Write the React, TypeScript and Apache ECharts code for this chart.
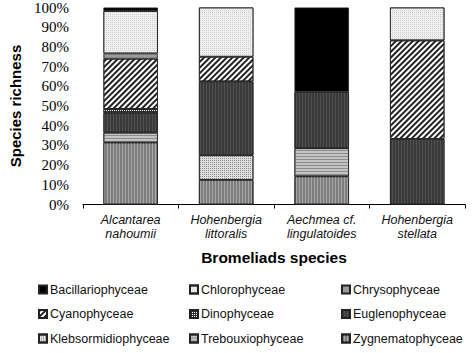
import React, { useEffect, useRef } from "react";
import * as echarts from "echarts";

const categories = [
  "Alcantarea\nnahoumii",
  "Hohenbergia\nlittoralis",
  "Aechmea cf.\nlingulatoides",
  "Hohenbergia\nstellata",
];

const bacillariophyceae = [1.8, 0, 42.9, 0];
const chlorophyceae = [21.5, 25, 0, 16.7];
const chrysophyceae = [2.7, 0, 0, 0];
const cyanophyceae = [25.5, 12.5, 0, 50];
const dinophyceae = [2, 0, 0, 0];
const euglenophyceae = [10, 37.5, 28.5, 33.3];
const klebsormidiophyceae = [0, 12.5, 0, 0];
const trebouxiophyceae = [5, 0, 14.3, 0];
const zygnematophyceae = [31.5, 12.5, 14.3, 0];

const legendCol1 = ["Bacillariophyceae", "Cyanophyceae", "Klebsormidiophyceae"];
const legendCol2 = ["Chlorophyceae", "Dinophyceae", "Trebouxiophyceae"];
const legendCol3 = ["Chrysophyceae", "Euglenophyceae", "Zygnematophyceae"];

const styles: Record<string, any> = {
  Zygnematophyceae: {
    color: "#7e7e7e",
    decal: { symbol: "rect", color: "#a8a8a8", dashArrayX: [1, 0], dashArrayY: [1, 2], rotation: Math.PI / 2, symbolSize: 1 },
  },
  Trebouxiophyceae: {
    color: "#c4c4c4",
    decal: { symbol: "rect", color: "#8c8c8c", dashArrayX: [1, 0], dashArrayY: [1, 2], rotation: 0, symbolSize: 1 },
  },
  Klebsormidiophyceae: {
    color: "#e0e0e0",
    decal: { symbol: "rect", color: "#8a8a8a", dashArrayX: [[1, 1]], dashArrayY: [1, 1], rotation: 0, symbolSize: 1 },
  },
  Euglenophyceae: {
    color: "#3a3a3a",
    decal: { symbol: "rect", color: "#505050", dashArrayX: [1, 0], dashArrayY: [1, 2], rotation: Math.PI / 2, symbolSize: 1 },
  },
  Dinophyceae: {
    color: "#303030",
    decal: { symbol: "rect", color: "#ffffff", dashArrayX: [[1, 1]], dashArrayY: [1, 1], rotation: 0, symbolSize: 1 },
  },
  Cyanophyceae: {
    color: "#ffffff",
    decal: { symbol: "rect", color: "#222222", dashArrayX: [1, 0], dashArrayY: [1.5, 2], rotation: -Math.PI / 4, symbolSize: 1 },
  },
  Chrysophyceae: {
    color: "#9a9a9a",
  },
  Chlorophyceae: {
    color: "#efefef",
    decal: { symbol: "rect", color: "#d0d0d0", dashArrayX: [[1, 1]], dashArrayY: [1, 1], rotation: 0, symbolSize: 1 },
  },
  Bacillariophyceae: { color: "#000000" },
};

const seriesData: [string, number[]][] = [
  ["Zygnematophyceae", zygnematophyceae],
  ["Trebouxiophyceae", trebouxiophyceae],
  ["Klebsormidiophyceae", klebsormidiophyceae],
  ["Euglenophyceae", euglenophyceae],
  ["Dinophyceae", dinophyceae],
  ["Cyanophyceae", cyanophyceae],
  ["Chrysophyceae", chrysophyceae],
  ["Chlorophyceae", chlorophyceae],
  ["Bacillariophyceae", bacillariophyceae],
];

export default function App() {
  const ref = useRef<HTMLDivElement>(null);
  useEffect(() => {
    const chart = echarts.init(ref.current!, undefined, { renderer: "svg" });
    const legendBase = {
      orient: "vertical" as const,
      top: 278,
      itemWidth: 8,
      itemHeight: 8,
      itemGap: 11.5,
      icon: "rect",
      selectedMode: false,
      textStyle: { fontFamily: "Liberation Sans, Arial", fontSize: 12.5, color: "#111", padding: [0, 0, 0, -2] },
    };
    chart.setOption({
      animation: false,
      grid: { left: 75, right: 9, top: 7, bottom: 148.5, containLabel: false },
      legend: [
        { ...legendBase, left: 33, data: legendCol1 },
        { ...legendBase, left: 184, data: legendCol2 },
        { ...legendBase, left: 336, data: legendCol3 },
      ],
      xAxis: {
        type: "category",
        data: categories,
        name: "Bromeliads species",
        nameLocation: "middle",
        nameGap: 45,
        nameTextStyle: { fontFamily: "Liberation Sans, Arial", fontWeight: "bold", fontSize: 15.5, color: "#000" },
        axisLine: { show: true, lineStyle: { color: "#000", width: 1 } },
        axisTick: { show: true, length: 4, lineStyle: { color: "#000" } },
        axisLabel: {
          fontFamily: "Liberation Sans, Arial",
          fontStyle: "italic",
          fontSize: 12.5,
          color: "#111",
          lineHeight: 14.5,
          margin: 8,
          interval: 0,
        },
      },
      yAxis: {
        type: "value",
        min: 0,
        max: 100,
        interval: 10,
        name: "Species richness",
        nameLocation: "middle",
        nameGap: 58,
        nameTextStyle: { fontFamily: "Liberation Sans, Arial", fontWeight: "bold", fontSize: 15, color: "#000" },
        axisLine: { show: false },
        axisTick: { show: false },
        splitLine: { show: false },
        axisLabel: {
          formatter: "{value}%",
          fontFamily: "Liberation Serif, Times New Roman",
          fontSize: 15,
          color: "#000",
          margin: 14,
        },
      },
      series: seriesData.map(([name, vals]) => ({
        name,
        type: "bar",
        stack: "total",
        barWidth: "57%",
        data: vals.map((v) => (v === 0 ? null : v)),
        itemStyle: { ...styles[name], borderColor: "#222", borderWidth: 0.8 },
      })),
    });
    return () => chart.dispose();
  }, []);
  return <div ref={ref} style={{ position: "absolute", left: 0, top: 0, width: 474, height: 353 }} />;
}
